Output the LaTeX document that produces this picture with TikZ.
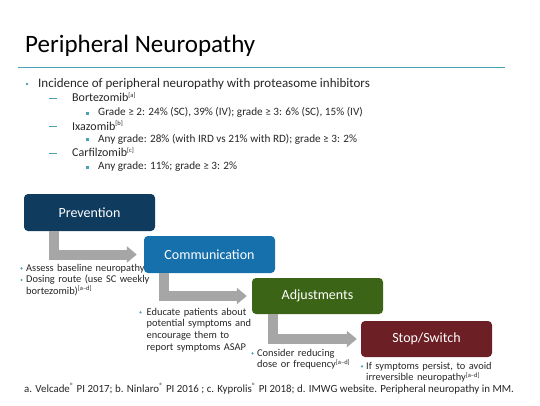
\documentclass[tikz,border=0pt]{standalone}
\usepackage{fontspec}
\setmainfont{Carlito}
\usetikzlibrary{arrows.meta}
\definecolor{tealc}{RGB}{75,160,180}
\definecolor{textc}{RGB}{38,38,38}
\definecolor{cprev}{RGB}{15,59,95}
\definecolor{ccomm}{RGB}{22,112,172}
\definecolor{cadj}{RGB}{60,100,22}
\definecolor{cstop}{RGB}{108,31,36}
\definecolor{arrowc}{RGB}{166,166,166}
\newcommand\refsup[1]{\textsuperscript{\fontsize{6.5}{7}\selectfont[#1]}}
\begin{document}
\begin{tikzpicture}[x=1pt,y=-1pt,
  txt/.style={anchor=base west, inner sep=0pt, text=textc},
  lone/.style={txt, font=\fontsize{13}{15}\selectfont},
  ltwo/.style={txt, font=\fontsize{12}{14}\selectfont},
  lthree/.style={txt, font=\fontsize{11.2}{13}\selectfont},
  btxt/.style={txt, text width=140pt, align=left, font=\fontsize{10.4}{11.7}\selectfont},
  stagebox/.style={rounded corners=4pt, minimum width=131pt, minimum height=37pt, inner sep=0pt, text=white, font=\fontsize{14}{16}\selectfont},
  flow/.style={draw=arrowc, line width=10pt, -{Triangle[length=10pt,width=16pt]}},
  dash line/.style={draw=tealc, line width=0.9pt}
]
\useasboundingbox (0,0) rectangle (540,405);
% title
\node[anchor=base west, inner sep=0pt, text=black, font=\fontsize{25}{30}\selectfont] (ttl) at (25,52) {Peripheral Neuropathy};
\draw[tealc, line width=1pt] (18,67) -- (505,67);
% list
\fill[tealc] (27,84) circle (1.4);
\node[lone] (i1) at (38,87.5) {Incidence of peripheral neuropathy with proteasome inhibitors};
\draw[dash line] (49,98) -- (57,98);
\node[ltwo] (b1) at (72,101.5) {Bortezomib\refsup{a}};
\fill[tealc] (85.5,111.5) rectangle (88.5,114.5);
\node[lthree] (b2) at (98,115.5) {Grade ≥ 2: 24\% (SC), 39\% (IV); grade ≥ 3: 6\% (SC), 15\% (IV)};
\draw[dash line] (49,126.5) -- (57,126.5);
\node[ltwo] (x1) at (72,130) {Ixazomib\refsup{b}};
\fill[tealc] (85.5,138) rectangle (88.5,141);
\node[lthree] (x2) at (98,142) {Any grade: 28\% (with IRD vs 21\% with RD); grade ≥ 3: 2\%};
\draw[dash line] (49,153) -- (57,153);
\node[ltwo] (c1) at (72,156.5) {Carfilzomib\refsup{c}};
\fill[tealc] (85.5,165.5) rectangle (88.5,168.5);
\node[lthree] (c2) at (98,169.5) {Any grade: 11\%; grade ≥ 3: 2\%};
% stages
\node[stagebox, fill=cprev] (prev) at (89.5,212.5) {Prevention};
\node[stagebox, fill=ccomm] (comm) at (209.5,254.5) {Communication};
\node[stagebox, fill=cadj, minimum height=36pt] (adj) at (317.5,296) {Adjustments};
\node[stagebox, fill=cstop, minimum height=36pt] (stop) at (426.5,339) {Stop/Switch};
% arrows
\draw[flow, shorten >=7pt] ([xshift=30.5pt]prev.south west) |- (comm.west);
\draw[flow, shorten >=5pt] ([xshift=20.5pt]comm.south west) |- (adj.west);
\draw[flow, shorten >=4pt] ([xshift=21.5pt]adj.south west) |- (stop.west);
% stage bullets
\fill[tealc] (21.5,268.3) circle (1.2);
\node[btxt] (p1) at (26,271) {Assess baseline neuropathy};
\fill[tealc] (21.5,280) circle (1.2);
\node[btxt] (p2) at (26,282.7) {Dosing route (use SC weekly\\bortezomib)\refsup{a–d}};
\fill[tealc] (140.5,312.3) circle (1.2);
\node[btxt] (m1) at (146.5,315) {Educate patients about\\potential symptoms and\\encourage them to\\report symptoms ASAP};
\fill[tealc] (252.5,353.3) circle (1.2);
\node[btxt] (a1) at (257,356) {Consider reducing\\dose or frequency\refsup{a–d}};
\fill[tealc] (362,366.3) circle (1.2);
\node[btxt] (s1) at (366,369) {If symptoms persist, to avoid\\irreversible neuropathy\refsup{a–d}};
% footnote
\node[txt, font=\fontsize{10.9}{13}\selectfont] (fn) at (24,392) {a. Velcade\textsuperscript{®} PI 2017; b. Ninlaro\textsuperscript{®} PI 2016 ; c. Kyprolis\textsuperscript{®} PI 2018; d. IMWG website. Peripheral neuropathy in MM.};
\end{tikzpicture}
\end{document}
